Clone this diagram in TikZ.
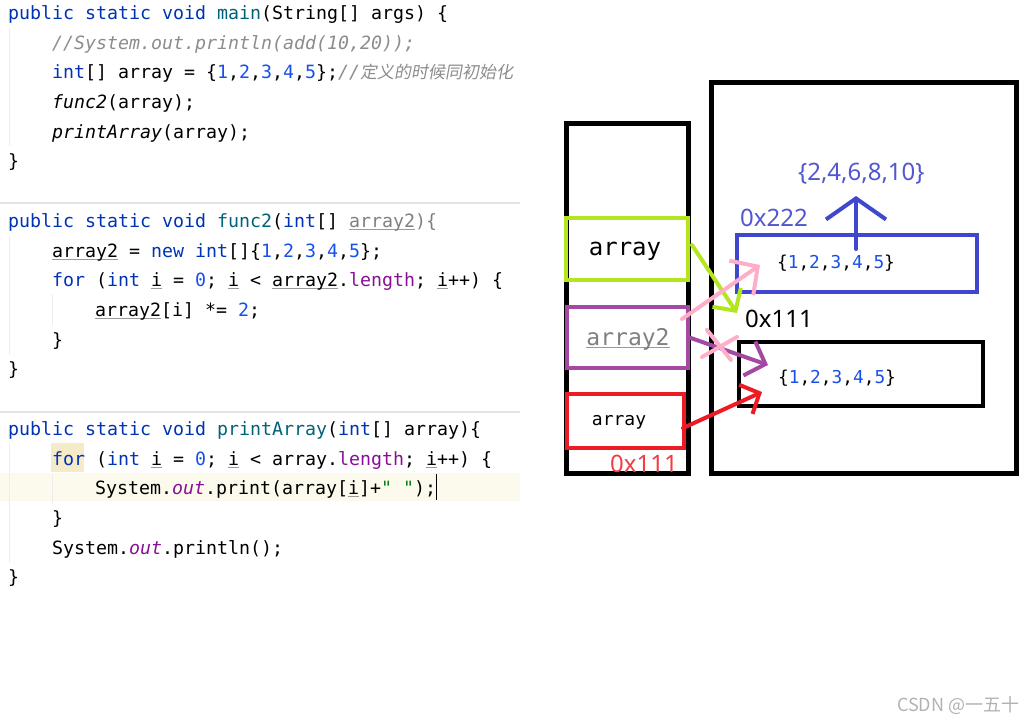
\documentclass[tikz,border=0pt]{standalone}
\usepackage{fontspec}
\usetikzlibrary{arrows.meta}
\newfontfamily\codefont{DejaVu Sans Mono}
\newfontfamily\cjkfont[FakeSlant=0.18]{Noto Sans CJK SC}
\newfontfamily\wmfont{Noto Sans CJK SC}
\newfontfamily\labfont{Noto Sans}
\definecolor{kw}{HTML}{0033B3}
\definecolor{fnc}{HTML}{00627A}
\definecolor{num}{HTML}{1750EB}
\definecolor{cmt}{HTML}{8C8C8C}
\definecolor{fld}{HTML}{871094}
\definecolor{strc}{HTML}{067D17}
\definecolor{ulc}{HTML}{9A9A9A}
\definecolor{sep}{HTML}{E3E3E3}
\definecolor{guide}{HTML}{EDEDED}
\definecolor{curline}{HTML}{FCFAED}
\definecolor{forhl}{HTML}{F5EBC8}
\definecolor{pgreen}{HTML}{B5E61D}
\definecolor{ppurple}{HTML}{A349A4}
\definecolor{pred}{HTML}{ED1C24}
\definecolor{ppink}{HTML}{FFAEC9}
\definecolor{pblue}{HTML}{3F48CC}
\definecolor{pbluetxt}{HTML}{5257D0}
\newcommand\undl[1]{\setbox0\hbox{#1}\rlap{\color{ulc}\rule[-3.2pt]{\wd0}{1.1pt}}\box0\relax}
\newcommand\K[1]{{\color{kw}#1}}
\newcommand\N[1]{{\color{num}#1}}
\newcommand\F[1]{{\color{fld}#1}}
\newcommand\arr{\{\N{1},\N{2},\N{3},\N{4},\N{5}\}}
\tikzset{
  code/.style={anchor=base west,inner sep=0pt,font=\codefont\fontsize{18.27}{20}\selectfont},
  lab/.style={anchor=base west,inner sep=0pt,font=\labfont\fontsize{24}{26}\selectfont},
  memtxt/.style={anchor=base,inner sep=0pt,font=\codefont\fontsize{17.8}{20}\selectfont},
  thickbox/.style={draw=black,line width=5pt},
  slot/.style={line width=4pt},
  hand/.style={line width=4pt,line cap=round,line join=round},
}
\begin{document}
\begin{tikzpicture}[x=1pt,y=-1pt]
\useasboundingbox (0,0) rectangle (1030,723);
% ---------- code panel ----------
\fill[curline] (0,473) rectangle (520,501);
\fill[forhl] (51,443) rectangle (84,472);
\draw[sep,line width=1.2pt] (0,203) -- (520,203);
\draw[sep,line width=1.2pt] (0,412) -- (520,412);
\draw[guide,line width=1pt] (9,28) -- (9,146);
\draw[guide,line width=1pt] (9,236) -- (9,355);
\draw[guide,line width=1pt] (52,294) -- (52,325);
\draw[guide,line width=1pt] (9,443) -- (9,563);
\draw[guide,line width=1pt] (52,474) -- (52,504);

\node[code] (l1) at (8,19) {\K{public static void} {\color{fnc}main}(String[] args) \{};
\node[code] (l2) at (52,49) {\color{cmt}\itshape //System.out.println(add(10,20));};
\node[code] (l3) at (52,78) {\K{int}[] array = \arr;{\color{cmt}\itshape //}{\cjkfont\fontsize{17}{20}\selectfont\color{cmt}定义的时候同初始化}};
\node[code] (l4) at (52,108) {{\itshape func2}(array);};
\node[code] (l5) at (52,138) {{\itshape printArray}(array);};
\node[code] (l6) at (8,167) {\}};

\node[code] (l7) at (8,227) {\K{public static void} {\color{fnc}func2}(\K{int}[] \undl{\color{gray}array2})\{};
\node[code] (l8) at (52,257) {\undl{array2} = \K{new} \K{int}[]\arr;};
\node[code] (l9) at (52,286) {\K{for} (\K{int} \undl{i} = \N{0}; \undl{i} < \undl{array2}.\F{length}; \undl{i}++) \{};
\node[code] (l10) at (95,316) {\undl{array2}[i] *= \N{2};};
\node[code] (l11) at (52,346) {\}};
\node[code] (l12) at (8,375) {\}};

\node[code] (l13) at (8,435) {\K{public static void} {\color{fnc}printArray}(\K{int}[] array)\{};
\node[code] (l14) at (52,465) {\K{for} (\K{int} \undl{i} = \N{0}; \undl{i} < array.\F{length}; \undl{i}++) \{};
\node[code] (l15) at (95,494) {System.\F{\itshape out}.print(array[\undl{i}]+{\color{strc}" "});};
\node[code] (l16) at (52,524) {\}};
\node[code] (l17) at (52,554) {System.\F{\itshape out}.println();};
\node[code] (l18) at (8,583) {\}};
\draw[black,line width=1pt] (436,474) -- (436,500);

% ---------- stack ----------
\draw[thickbox] (566,123) rectangle (688,473);
\draw[slot,pgreen] (566,218) rectangle (688,280);
\draw[slot,ppurple] (567,307) rectangle (688,368);
\draw[slot,pred] (567,394) rectangle (684,448);
\node[memtxt,font=\codefont\fontsize{24}{26}\selectfont] (sA) at (625,255) {array};
\node[memtxt,font=\codefont\fontsize{23}{26}\selectfont] (sB) at (628,345) {\undl{\color{gray}array2}};
\node[memtxt,font=\codefont\fontsize{18}{20}\selectfont] (sC) at (619,425) {array};
\node[lab,text=pred!85] (a111) at (610,472) {0x111};

% ---------- heap ----------
\draw[thickbox] (711,82) rectangle (1016,473);
\draw[slot,pblue,line width=3.8pt] (737,235) rectangle (977,292);
\draw[slot,black] (739,342) rectangle (983,406);
\node[memtxt] (hB) at (836,268) {\arr};
\node[memtxt] (hA) at (837,383) {\arr};
\node[lab,text=pbluetxt] (h222) at (740,226) {0x222};
\node[lab,text=black] (h111) at (745,327) {0x111};
\node[lab,text=pbluetxt] (dbl) at (798,180) {\{2,4,6,8,10\}};

% ---------- arrows ----------
\coordinate (gS) at (692,245);  \coordinate (gT) at (737,313);
\coordinate (kS) at (682,319);  \coordinate (kT) at (760,265);
\coordinate (pS) at (688,337);  \coordinate (pT) at (768,365);
\coordinate (rS) at (683,428);  \coordinate (rT) at (762,392);
\coordinate (bS) at (856,249);  \coordinate (bT) at (856,196);
\draw[hand,pgreen,-{Straight Barb[length=16pt,width=34pt]}] (gS) -- (gT);
\draw[hand,ppink,-{Straight Barb[length=20pt,width=42pt]}] (kS) -- (kT);
\draw[hand,ppurple,-{Straight Barb[length=17pt,width=36pt]}] (pS) -- (pT);
\draw[hand,pred,-{Straight Barb[length=15pt,width=32pt]}] (rS) -- (rT);
\draw[hand,pblue,-{Straight Barb[length=21pt,width=60pt]}] (bS) -- (bT);
% pink cross
\draw[hand,ppink] (707,330) -- (731,360);
\draw[hand,ppink] (702,357) -- (737,337);

% watermark
\node[anchor=west,inner sep=0pt,font=\wmfont\fontsize{18}{20}\selectfont,text=black!30] (wm) at (897,705) {CSDN @一五十};
\end{tikzpicture}
\end{document}
